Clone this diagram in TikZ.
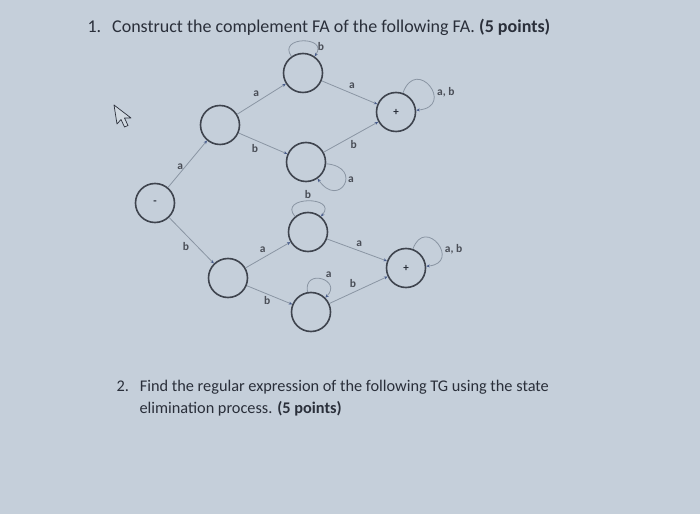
\documentclass[tikz,border=0pt]{standalone}
\usepackage{fontspec}
\setmainfont{Carlito}
\usetikzlibrary{arrows.meta}

\definecolor{screen}{RGB}{197,207,218}
\definecolor{ink}{RGB}{42,47,58}
\definecolor{wire}{RGB}{138,149,163}
\definecolor{tip}{RGB}{72,92,140}

\tikzset{
	state/.style = {circle, draw = ink!90, line width = 1.6pt, minimum size = 39pt,
		inner sep = 0pt, font = \fontsize{11}{12}\selectfont\bfseries, text = ink},
	edge/.style = {draw = wire, line width = 0.8pt, -{Stealth[length = 3.5pt, width = 3pt, color = tip]}},
	lbl/.style = {font = \fontsize{11.5}{13}\selectfont\bfseries, text = ink!85, inner sep = 2pt}
}

\begin{document}
\begin{tikzpicture}[x = 1pt, y = 1pt]
\fill [screen] (0,0) rectangle (700,514);
\useasboundingbox (0,0) rectangle (700,514);

% question text
\node [anchor = base west, text = ink, font = \fontsize{18}{21}\selectfont]
	(quest1) at (84,481) {1.\hspace{11pt}Construct the complement FA of the following FA. \textbf{(5 points)}};
\node [anchor = base west, text = ink, font = \fontsize{16.3}{22}\selectfont,
	align = left] (quest2) at (113,101)
	{2.\hspace{11pt}Find the regular expression of the following TG using the state\\
	\hspace{23pt}elimination process. \textbf{(5 points)}};

% mouse pointer
\draw [ink, line width = 0.7pt, line join = round, fill = screen!80!white]
	(114,409) -- (117,390) -- (121,394.5) -- (124.5,387) -- (128,388.5)
	-- (124.5,396) -- (131,396) -- cycle;

% states
\node [state] (start) at (155,311) {-};
\node [state] (qa) at (220,389) {};
\node [state] (qaa) at (303,441) {};
\node [state] (qab) at (306,352) {};
\node [state] (fin1) at (396,402) {+};
\node [state] (qb) at (228,236) {};
\node [state] (qba) at (308,282) {};
\node [state] (qbb) at (311,202) {};
\node [state] (fin2) at (406,246) {+};

% transitions
\draw [edge] (start) -- node [lbl, left, pos = 0.45] {a} (qa);
\draw [edge] (start) -- node [lbl, below left] {b} (qb);
\draw [edge] (qa) -- node [lbl, above left] {a} (qaa);
\draw [edge] (qa) -- node [lbl, below left, pos = 0.45] {b} (qab);
\draw [edge] (qaa) -- node [lbl, above right, pos = 0.45] {a} (fin1);
\draw [edge] (qab) -- node [lbl, below right, pos = 0.45] {b} (fin1);
\draw [edge] (qb) -- node [lbl, above left] {a} (qba);
\draw [edge] (qb) -- node [lbl, below, pos = 0.45] {b} (qbb);
\draw [edge] (qba) -- node [lbl, above right, pos = 0.45] {a} (fin2);
\draw [edge] (qbb) -- node [lbl, above left, pos = 0.5] {b} (fin2);

% loops
\draw [edge] (qaa) to [out = 125, in = 55, distance = 25pt]
	node [lbl, right, pos = 0.8, inner sep = 1pt] {b} (qaa);
\draw [edge] (qab) to [out = -5, in = -55, distance = 38pt]
	node [lbl, right, pos = 0.4] {a} (qab);
\draw [edge] (qba) to [out = 130, in = 50, distance = 27pt]
	node [lbl, above] {b} (qba);
\draw [edge] (qbb) to [out = 100, in = 45, distance = 25pt]
	node [lbl, above right, pos = 0.55] {a} (qbb);
\draw [edge] (fin1) to [out = 70, in = 5, distance = 40pt]
	node [lbl, right, pos = 0.6, xshift = 2pt] {a, b} (fin1);
\draw [edge] (fin2) to [out = 70, in = 5, distance = 36pt]
	node [lbl, right, pos = 0.6, xshift = 2pt] {a, b} (fin2);
\end{tikzpicture}
\end{document}
